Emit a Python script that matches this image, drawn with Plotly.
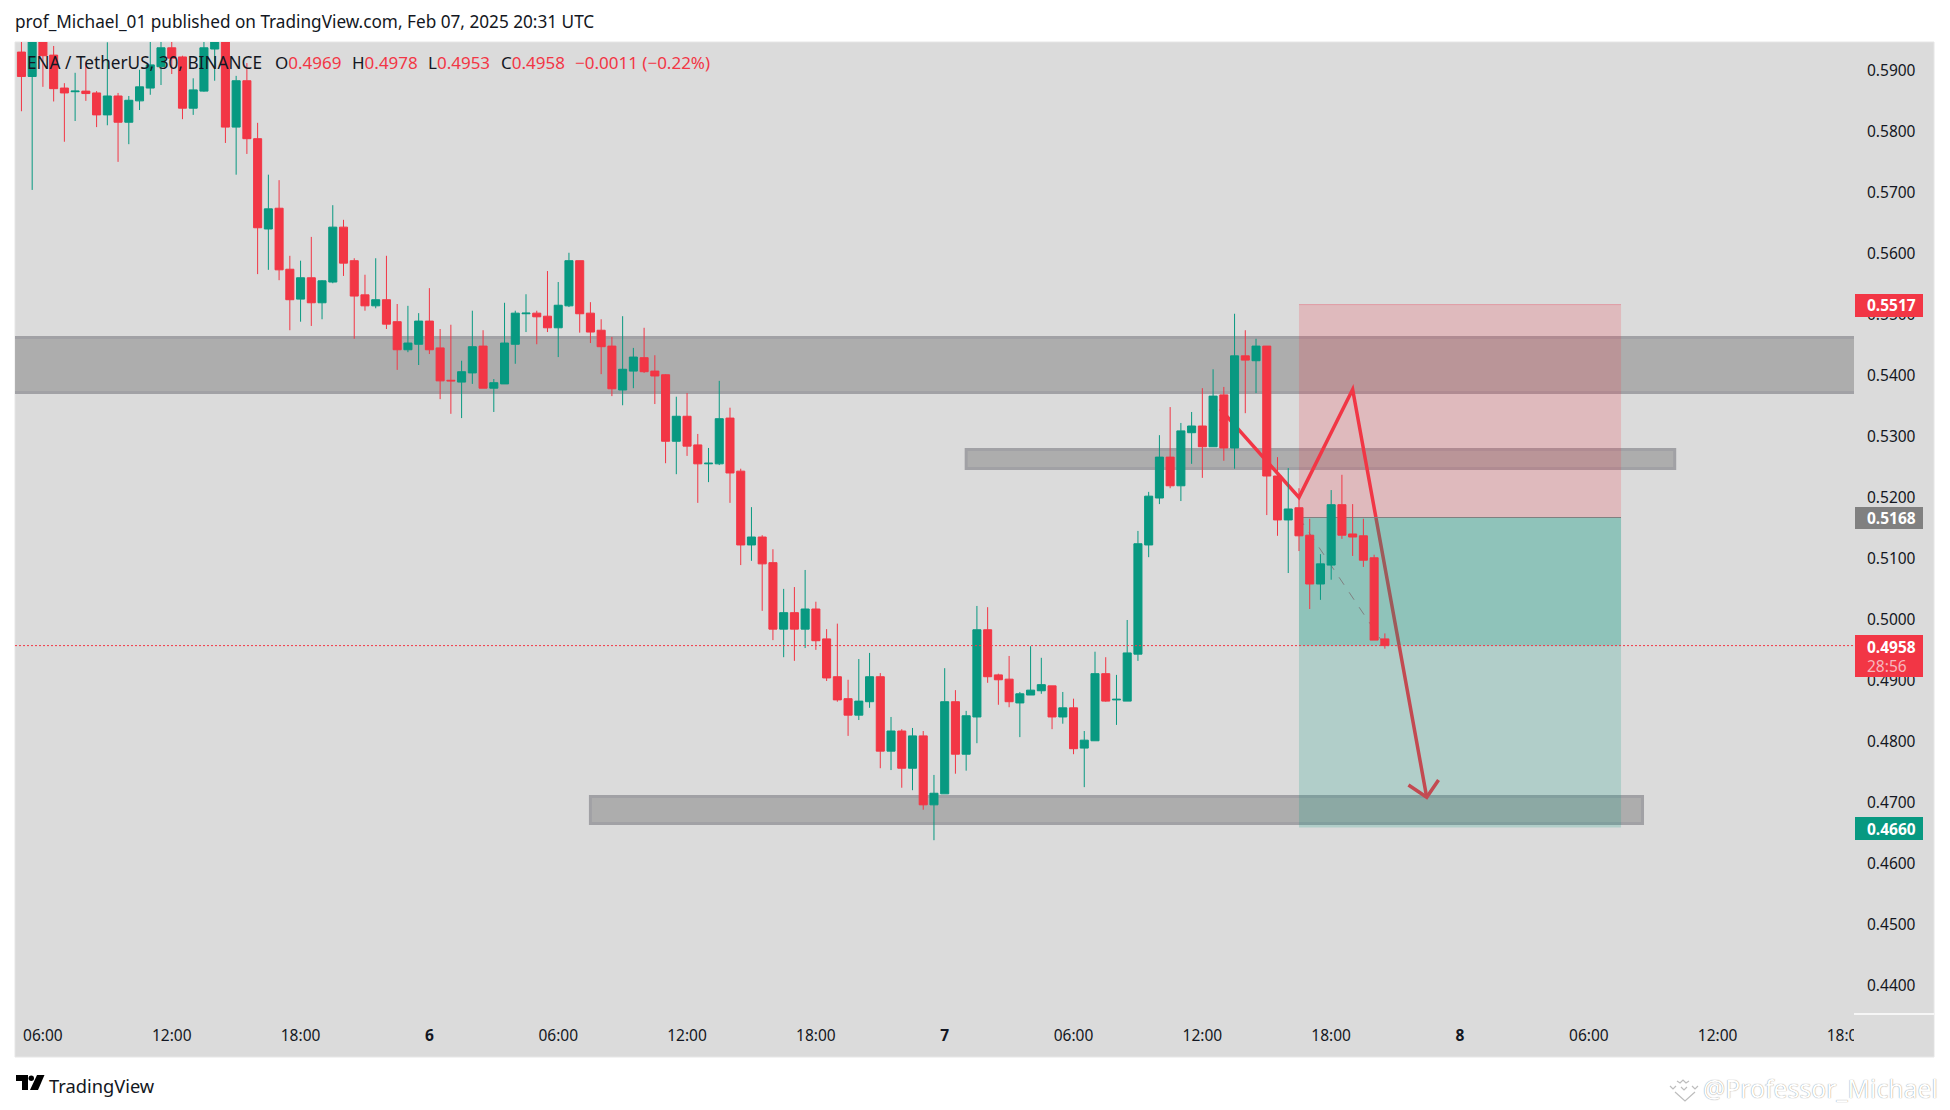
import pandas as pd
import plotly.graph_objects as go

# Candle data, 30 min bars
start_time = "2025-02-05 05:00"
opens = [0.5931, 0.5891, 0.5962, 0.5926, 0.5872, 0.5866, 0.5867, 0.5864, 0.5828, 0.5859, 0.5816, 0.5851, 0.5872, 0.5907, 0.5938, 0.5923,
         0.5839, 0.5867, 0.5936, 0.5956, 0.5808, 0.5884, 0.5789, 0.5641, 0.5675, 0.5575, 0.5526, 0.5561, 0.5520, 0.5554, 0.5644, 0.5589,
         0.5533, 0.5515, 0.5525, 0.5489, 0.5443, 0.5452, 0.5490, 0.5446, 0.5393, 0.5390, 0.5405, 0.5449, 0.5380, 0.5387, 0.5452, 0.5502,
         0.5503, 0.5498, 0.5479, 0.5515, 0.5589, 0.5503, 0.5475, 0.5449, 0.5377, 0.5408, 0.5430, 0.5408, 0.5402, 0.5293, 0.5334, 0.5287,
         0.5256, 0.5256, 0.5331, 0.5244, 0.5123, 0.5136, 0.5094, 0.4985, 0.5012, 0.4985, 0.5018, 0.4969, 0.4907, 0.4871, 0.4844, 0.4866,
         0.4907, 0.4785, 0.4818, 0.4757, 0.4810, 0.4697, 0.4715, 0.4866, 0.4780, 0.4841, 0.4984, 0.4910, 0.4903, 0.4864, 0.4877, 0.4884,
         0.4892, 0.4841, 0.4856, 0.4790, 0.4802, 0.4912, 0.4869, 0.4867, 0.4944, 0.5123, 0.5200, 0.5267, 0.5220, 0.5307, 0.5318, 0.5284,
         0.5369, 0.5282, 0.5433, 0.5425, 0.5449, 0.5236, 0.5164, 0.5184, 0.5139, 0.5059, 0.5090, 0.5189, 0.5141, 0.5138, 0.5102, 0.4969]
highs = [0.5962, 0.5970, 0.5975, 0.5941, 0.5880, 0.5897, 0.5915, 0.5867, 0.5947, 0.5864, 0.5859, 0.5902, 0.5950, 0.5955, 0.5955, 0.5925,
         0.5888, 0.5955, 0.5965, 0.5965, 0.5892, 0.5913, 0.5815, 0.5730, 0.5721, 0.5597, 0.5589, 0.5628, 0.5557, 0.5680, 0.5656, 0.5593,
         0.5566, 0.5593, 0.5597, 0.5518, 0.5515, 0.5503, 0.5544, 0.5477, 0.5484, 0.5425, 0.5507, 0.5475, 0.5395, 0.5520, 0.5507, 0.5534,
         0.5507, 0.5572, 0.5554, 0.5602, 0.5589, 0.5521, 0.5493, 0.5464, 0.5498, 0.5446, 0.5479, 0.5434, 0.5403, 0.5366, 0.5372, 0.5305,
         0.5282, 0.5392, 0.5348, 0.5248, 0.5185, 0.5139, 0.5116, 0.5051, 0.5054, 0.5082, 0.5030, 0.4985, 0.4994, 0.4902, 0.4936, 0.4946,
         0.4913, 0.4841, 0.4821, 0.4823, 0.4818, 0.4746, 0.4921, 0.4885, 0.4851, 0.5023, 0.5021, 0.4912, 0.4941, 0.4882, 0.4957, 0.4938,
         0.4892, 0.4882, 0.4871, 0.4818, 0.4948, 0.4939, 0.4910, 0.5000, 0.5146, 0.5210, 0.5303, 0.5349, 0.5323, 0.5341, 0.5380, 0.5411,
         0.5382, 0.5502, 0.5475, 0.5461, 0.5449, 0.5267, 0.5249, 0.5216, 0.5166, 0.5108, 0.5213, 0.5238, 0.5190, 0.5166, 0.5107, 0.4978]
lows = [0.5834, 0.5705, 0.5874, 0.5850, 0.5784, 0.5818, 0.5851, 0.5808, 0.5811, 0.5751, 0.5780, 0.5836, 0.5861, 0.5877, 0.5895, 0.5821,
        0.5828, 0.5866, 0.5884, 0.5782, 0.5730, 0.5764, 0.5567, 0.5574, 0.5557, 0.5475, 0.5489, 0.5482, 0.5493, 0.5552, 0.5564, 0.5461,
        0.5507, 0.5511, 0.5477, 0.5410, 0.5439, 0.5418, 0.5436, 0.5362, 0.5338, 0.5331, 0.5387, 0.5380, 0.5341, 0.5387, 0.5420, 0.5472,
        0.5452, 0.5472, 0.5431, 0.5513, 0.5471, 0.5454, 0.5403, 0.5367, 0.5352, 0.5380, 0.5405, 0.5354, 0.5257, 0.5239, 0.5269, 0.5192,
        0.5226, 0.5254, 0.5192, 0.5090, 0.5097, 0.5015, 0.4967, 0.4939, 0.4933, 0.4954, 0.4951, 0.4900, 0.4866, 0.4810, 0.4836, 0.4856,
        0.4757, 0.4754, 0.4725, 0.4721, 0.4689, 0.4639, 0.4715, 0.4748, 0.4753, 0.4798, 0.4897, 0.4861, 0.4857, 0.4808, 0.4877, 0.4879,
        0.4821, 0.4830, 0.4780, 0.4726, 0.4802, 0.4866, 0.4828, 0.4867, 0.4933, 0.5103, 0.5190, 0.5216, 0.5195, 0.5256, 0.5233, 0.5284,
        0.5261, 0.5248, 0.5339, 0.5372, 0.5172, 0.5138, 0.5077, 0.5113, 0.5018, 0.5033, 0.5066, 0.5133, 0.5105, 0.5087, 0.4967, 0.4953]
closes = [0.5891, 0.5964, 0.5925, 0.5871, 0.5864, 0.5867, 0.5863, 0.5828, 0.5859, 0.5816, 0.5852, 0.5874, 0.5910, 0.5938, 0.5921, 0.5839,
          0.5869, 0.5938, 0.5956, 0.5808, 0.5884, 0.5789, 0.5643, 0.5674, 0.5574, 0.5525, 0.5561, 0.5520, 0.5556, 0.5644, 0.5585, 0.5531,
          0.5515, 0.5525, 0.5485, 0.5443, 0.5454, 0.5490, 0.5443, 0.5392, 0.5392, 0.5407, 0.5448, 0.5380, 0.5389, 0.5454, 0.5503, 0.5503,
          0.5497, 0.5479, 0.5516, 0.5589, 0.5502, 0.5472, 0.5448, 0.5379, 0.5411, 0.5431, 0.5407, 0.5400, 0.5293, 0.5334, 0.5285, 0.5256,
          0.5257, 0.5330, 0.5241, 0.5123, 0.5136, 0.5092, 0.4985, 0.5012, 0.4985, 0.5018, 0.4966, 0.4905, 0.4869, 0.4844, 0.4867, 0.4907,
          0.4785, 0.4818, 0.4757, 0.4810, 0.4697, 0.4716, 0.4866, 0.4780, 0.4843, 0.4984, 0.4907, 0.4902, 0.4866, 0.4879, 0.4885, 0.4894,
          0.4841, 0.4856, 0.4789, 0.4803, 0.4912, 0.4867, 0.4870, 0.4946, 0.5125, 0.5203, 0.5267, 0.5220, 0.5310, 0.5318, 0.5284, 0.5367,
          0.5282, 0.5433, 0.5426, 0.5449, 0.5236, 0.5164, 0.5182, 0.5138, 0.5059, 0.5092, 0.5189, 0.5139, 0.5136, 0.5098, 0.4967, 0.4958]

tick_times = ["2025-02-05 06:00", "2025-02-05 12:00", "2025-02-05 18:00", "2025-02-06 00:00", "2025-02-06 06:00",
              "2025-02-06 12:00", "2025-02-06 18:00", "2025-02-07 00:00", "2025-02-07 06:00", "2025-02-07 12:00",
              "2025-02-07 18:00", "2025-02-08 00:00", "2025-02-08 06:00", "2025-02-08 12:00", "2025-02-08 18:00"]
tick_labels = ["06:00", "12:00", "18:00", "<b>6</b>", "06:00", "12:00", "18:00", "<b>7</b>",
               "06:00", "12:00", "18:00", "<b>8</b>", "06:00", "12:00", "18:00"]
price_ticks = [0.44, 0.45, 0.46, 0.47, 0.48, 0.49, 0.50, 0.51, 0.52, 0.53, 0.54, 0.55, 0.56, 0.57, 0.58, 0.59]

# Drawn zones and the short position box
zone_top = [0.5463, 0.52795, 0.47107]
zone_bottom = [0.5373, 0.52484, 0.46664]
zone_start = ["2025-02-05 00:00", "2025-02-07 01:00", "2025-02-06 07:30"]
zone_end = ["2025-02-09 12:00", "2025-02-08 10:00", "2025-02-08 08:30"]
box_start, box_end = "2025-02-07 16:30", "2025-02-08 07:30"
stop_price, entry_price, target_price, last_price = 0.5517, 0.5168, 0.4660, 0.4958
last_time = "2025-02-07 20:30"

# Hand drawn path and arrow head
path_times = ["2025-02-07 12:50", "2025-02-07 16:30", "2025-02-07 19:00", "2025-02-07 22:27"]
path_prices = [0.5346, 0.5201, 0.5378, 0.47093]
head_times = ["2025-02-07 21:36", "2025-02-07 22:27", "2025-02-07 23:00"]
head_prices = [0.47295, 0.47093, 0.47377]

RED = "#F23645"
GREEN = "#089981"
PANE = "#DBDBDB"
INK = "#131722"
FONT = "Noto Sans"

# Pixel frame of the pane inside the 1950x1110 page
L, R, T, B = 15, 1854, 42, 1014


def px(x):
    return (x - L) / (R - L)


def py(y):
    return (B - y) / (B - T)


def date_path(times, prices):
    pts = [f"{str(t).replace(' ', '_')},{p}" for t, p in zip(times, prices)]
    return "M " + " L ".join(pts)


def poly(points, close=True):
    s = "M " + " L ".join(f"{px(x)},{py(y)}" for x, y in points)
    return s + " Z" if close else s


times = pd.date_range(start_time, periods=len(opens), freq="30min")

fig = go.Figure()
fig.add_trace(go.Candlestick(
    x=times, open=opens, high=highs, low=lows, close=closes,
    increasing=dict(line=dict(color=GREEN, width=1), fillcolor=GREEN),
    decreasing=dict(line=dict(color=RED, width=1), fillcolor=RED),
    whiskerwidth=0, showlegend=False, hoverinfo="skip",
))

shapes = []
# outer grey panel behind the axes
shapes.append(dict(type="rect", xref="paper", yref="paper", layer="below",
                   x0=px(15), x1=px(1934), y0=py(1057), y1=py(42),
                   fillcolor=PANE, line=dict(color="#E6E6E6", width=1)))

# support / resistance zones
for i in range(len(zone_top)):
    shapes.append(dict(type="rect", xref="x", yref="y", layer="below",
                       x0=zone_start[i], x1=zone_end[i], y0=zone_bottom[i], y1=zone_top[i],
                       fillcolor="rgba(100,100,100,0.39)", line=dict(color="#A1A1A5", width=3)))

# hand drawn path goes under the position box
shapes.append(dict(type="path", xref="x", yref="y", layer="below",
                   path=date_path(path_times, path_prices), line=dict(color=RED, width=3.5)))
shapes.append(dict(type="path", xref="x", yref="y", layer="below",
                   path=date_path(head_times, head_prices), line=dict(color=RED, width=3.5)))

# position box: risk, reward, and the running part of the reward
shapes.append(dict(type="rect", xref="x", yref="y", layer="below", x0=box_start, x1=box_end,
                   y0=entry_price, y1=stop_price, fillcolor="rgba(242,54,69,0.2)", line=dict(width=0)))
shapes.append(dict(type="rect", xref="x", yref="y", layer="below", x0=box_start, x1=box_end,
                   y0=target_price, y1=entry_price, fillcolor="rgba(8,153,129,0.2)", line=dict(width=0)))
shapes.append(dict(type="rect", xref="x", yref="y", layer="below", x0=box_start, x1=box_end,
                   y0=last_price, y1=entry_price, fillcolor="rgba(8,153,129,0.2)", line=dict(width=0)))
shapes.append(dict(type="line", xref="x", yref="y", layer="below", x0=box_start, x1=box_end,
                   y0=stop_price, y1=stop_price, line=dict(color="#DF9CA3", width=1)))
shapes.append(dict(type="line", xref="x", yref="y", layer="below", x0=box_start, x1=box_end,
                   y0=entry_price, y1=entry_price, line=dict(color="#808080", width=1)))
shapes.append(dict(type="line", xref="x", yref="y", layer="below", x0=box_start, x1=last_time,
                   y0=entry_price, y1=last_price, line=dict(color="#808080", width=1, dash="dash")))

# last price line
shapes.append(dict(type="line", xref="paper", yref="y", layer="above", x0=0, x1=1,
                   y0=last_price, y1=last_price, line=dict(color=RED, width=1, dash="2px,2px")))

# hides the part of the last time label that runs under the price scale
shapes.append(dict(type="rect", xref="paper", yref="paper", layer="above",
                   x0=px(1854), x1=px(1933.5), y0=py(1056), y1=py(1014),
                   fillcolor=PANE, line=dict(width=0)))
shapes.append(dict(type="line", xref="paper", yref="paper", layer="above",
                   x0=px(1854), x1=px(1934), y0=py(1014), y1=py(1014),
                   line=dict(color="#FFFFFF", width=1.5)))

# price scale badges
badges = [(294, 317, RED), (507, 529, "#808080"), (635, 677, RED), (817, 840, GREEN)]
for y0, y1, col in badges:
    shapes.append(dict(type="rect", xref="paper", yref="paper", layer="above",
                       x0=px(1855), x1=px(1923), y0=py(y1), y1=py(y0),
                       fillcolor=col, line=dict(width=0)))

# TradingView logo
shapes.append(dict(type="path", xref="paper", yref="paper", layer="above", fillcolor="#000000", line=dict(width=0),
                   path=poly([(16, 1075), (28, 1075), (28, 1090), (22, 1090), (22, 1081), (16, 1081)])))
shapes.append(dict(type="circle", xref="paper", yref="paper", layer="above", fillcolor="#000000", line=dict(width=0),
                   x0=px(28.5), x1=px(34), y0=py(1081), y1=py(1075.5)))
shapes.append(dict(type="path", xref="paper", yref="paper", layer="above", fillcolor="#000000", line=dict(width=0),
                   path=poly([(37, 1075), (44.5, 1075), (38, 1090), (30, 1090)])))

# watermark icon
for pts in ([(1677, 1081), (1680, 1083), (1683, 1080), (1686, 1083), (1689, 1081)],
            [(1670, 1086), (1673, 1089), (1676, 1086)],
            [(1681, 1087), (1684, 1090), (1687, 1087)],
            [(1692, 1086), (1695, 1089), (1698, 1086)],
            [(1675, 1092), (1685, 1101), (1695, 1092)]):
    shapes.append(dict(type="path", xref="paper", yref="paper", layer="above",
                       path=poly(pts, close=False), line=dict(color="#BDBDBD", width=1.2)))

annotations = []


def note(text, x, y, size, color=INK, anchor="left", shadow=None):
    font = dict(family=FONT, size=size, color=color)
    if shadow:
        font["shadow"] = shadow
    annotations.append(dict(text=text, xref="paper", yref="paper", x=px(x), y=py(y),
                            xanchor=anchor, yanchor="middle", showarrow=False, font=font,
                            borderpad=0, borderwidth=0))


note("prof_Michael_01 published on TradingView.com, Feb 07, 2025 20:31 UTC", 15, 22, 17.2)
note("ENA / TetherUS, 30, BINANCE", 27, 63, 17.2)
note(f"O<span style='color:{RED}'>0.4969</span>", 275, 63, 17)
note(f"H<span style='color:{RED}'>0.4978</span>", 352, 63, 17)
note(f"L<span style='color:{RED}'>0.4953</span>", 428, 63, 17)
note(f"C<span style='color:{RED}'>0.4958</span>", 501, 63, 17)
note(f"<span style='color:{RED}'>\u22120.0011 (\u22120.22%)</span>", 575, 63, 17)
note("<b>0.5517</b>", 1867, 305.5, 15.5, "#FFFFFF")
note("<b>0.5168</b>", 1867, 518, 15.5, "#FFFFFF")
note("<b>0.4958</b>", 1867, 647, 15.5, "#FFFFFF")
note("28:56", 1867, 666, 15.5, "#F7B7BD")
note("<b>0.4660</b>", 1867, 828.5, 15.5, "#FFFFFF")
note("TradingView", 49, 1085, 18.3, "#131722")
note("@Professor_Michael", 1703, 1088, 24.8, "#FFFFFF", shadow="0 0 1px #707070")

fig.update_layout(
    width=1950, height=1110,
    margin=dict(l=L, r=1950 - R, t=T, b=1110 - B),
    paper_bgcolor="#FFFFFF", plot_bgcolor=PANE,
    font=dict(family=FONT, color=INK),
    boxgap=0.25, boxgroupgap=0,
    showlegend=False,
    shapes=shapes,
    annotations=annotations,
    xaxis=dict(
        type="date",
        range=["2025-02-05 04:42", "2025-02-08 18:21"],
        rangeslider=dict(visible=False),
        tickmode="array", tickvals=tick_times, ticktext=tick_labels,
        tickangle=0, ticks="", showgrid=False, zeroline=False, showline=False,
        tickfont=dict(family=FONT, size=15.5, color=INK), ticklabelstandoff=10,
    ),
    yaxis=dict(
        side="right",
        range=[0.43541, 0.59475],
        tickmode="array", tickvals=price_ticks, tickformat=".4f",
        ticks="", showgrid=False, zeroline=False, showline=False,
        tickfont=dict(family=FONT, size=15.5, color=INK), ticklabelstandoff=12,
    ),
)

fig.write_html("out.html", config={"displayModeBar": False}, post_script="document.body.style.margin='0';")
